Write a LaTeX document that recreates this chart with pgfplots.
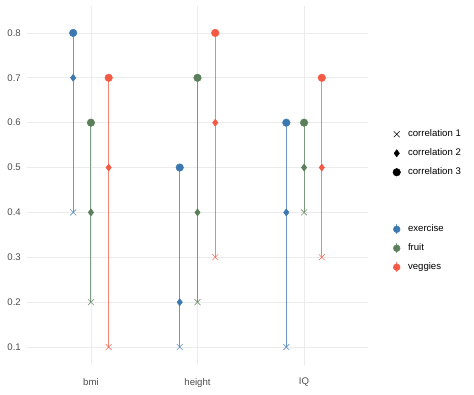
\documentclass[border=0pt]{standalone}
\usepackage{pgfplots}
\pgfplotsset{compat=1.18}
\usepackage{pgfplotstable}
\usepackage{fontspec}
\setmainfont{Liberation Sans}
\definecolor{exc}{HTML}{3B78B0}
\definecolor{fru}{HTML}{5A7F5A}
\definecolor{veg}{HTML}{F45A43}
\definecolor{gridc}{HTML}{EBEBEB}
\definecolor{tickc}{HTML}{4D4D4D}

\pgfplotstableread{
x c1 c2 c3
0.8333 0.4 0.7 0.8
1.8333 0.1 0.2 0.5
2.8333 0.1 0.4 0.6
}\exercise
\pgfplotstableread{
x c1 c2 c3
1 0.2 0.4 0.6
2 0.2 0.4 0.7
3 0.4 0.5 0.6
}\fruit
\pgfplotstableread{
x c1 c2 c3
1.1667 0.1 0.5 0.7
2.1667 0.3 0.6 0.8
3.1667 0.3 0.5 0.7
}\veggies

\pgfplotsset{
  seg/.style={forget plot, draw=none, mark=none,
    error bars/.cd, y dir=minus, y explicit, error mark=none,
    error bar style={line width=1.1pt, color=#1, opacity=0.75}},
  pr/.style={legend image code/.code={
    \draw[#1, line width=0.9pt, opacity=0.75] (0.3cm,-0.17cm) -- (0.3cm,0.17cm);
    \fill[#1] (0.3cm,0cm) circle (3.4pt);}},
}

\begin{document}
\fontsize{9.6}{11.5}\selectfont
\begin{tikzpicture}
\path[use as bounding box] (0,0) rectangle (474pt,395pt);
\begin{axis}[
  at={(27pt,30pt)}, anchor=south west,
  scale only axis, width=341pt, height=359pt,
  xmin=0.4, xmax=3.6, ymin=0.06, ymax=0.86,
  xtick={1,2,3}, xticklabels={bmi,height,IQ},
  ytick={0.1,0.2,0.3,0.4,0.5,0.6,0.7,0.8},
  yticklabel style={/pgf/number format/.cd, fixed, fixed zerofill, precision=1, /tikz/.cd},
  /pgf/number format/assume math mode=true,
  axis line style={draw=none}, major tick length=0pt,
  grid=major, major grid style={gridc, line width=0.7pt},
  tick label style={font=\fontsize{9.6}{11.5}\selectfont, color=tickc},
  yticklabel style={inner sep=0pt, anchor=east, xshift=-6pt},
  xticklabel style={inner sep=0pt, anchor=north, yshift=-13pt},
  legend style={at={(1,0.66)}, anchor=north west, xshift=20pt, draw=none, fill=none,
    font=\fontsize{9.6}{11.5}\selectfont, row sep=7pt, inner sep=0pt,
    nodes={inner sep=1.5pt, text height=7pt, text depth=2pt},
    /tikz/every odd column/.append style={column sep=6pt}},
  legend cell align=left,
]
% segments
\addplot[seg=exc] table[x=x, y=c3, y error minus expr=\thisrow{c3}-\thisrow{c1}] {\exercise};
\addplot[seg=fru] table[x=x, y=c3, y error minus expr=\thisrow{c3}-\thisrow{c1}] {\fruit};
\addplot[seg=veg] table[x=x, y=c3, y error minus expr=\thisrow{c3}-\thisrow{c1}] {\veggies};
% correlation 1 (crosses)
\addplot[forget plot, only marks, mark=x, mark size=4.2pt, exc, opacity=0.8, mark options={line width=0.6pt}] table[x=x, y=c1] {\exercise};
\addplot[forget plot, only marks, mark=x, mark size=4.2pt, fru, opacity=0.8, mark options={line width=0.6pt}] table[x=x, y=c1] {\fruit};
\addplot[forget plot, only marks, mark=x, mark size=4.2pt, veg, opacity=0.8, mark options={line width=0.6pt}] table[x=x, y=c1] {\veggies};
% correlation 2 (diamonds)
\addplot[forget plot, only marks, mark=diamond*, mark size=3.6pt, exc] table[x=x, y=c2] {\exercise};
\addplot[forget plot, only marks, mark=diamond*, mark size=3.6pt, fru] table[x=x, y=c2] {\fruit};
\addplot[forget plot, only marks, mark=diamond*, mark size=3.6pt, veg] table[x=x, y=c2] {\veggies};
% correlation 3 (circles)
\addplot[forget plot, only marks, mark=*, mark size=3.8pt, exc] table[x=x, y=c3] {\exercise};
\addplot[forget plot, only marks, mark=*, mark size=3.8pt, fru] table[x=x, y=c3] {\fruit};
\addplot[forget plot, only marks, mark=*, mark size=3.8pt, veg] table[x=x, y=c3] {\veggies};
% legend
\addlegendimage{only marks, mark=x, mark size=4.2pt, black, mark options={line width=0.6pt}}
\addlegendentry{correlation 1}
\addlegendimage{only marks, mark=diamond*, mark size=3.6pt, black}
\addlegendentry{correlation 2}
\addlegendimage{only marks, mark=*, mark size=3.8pt, black}
\addlegendentry{correlation 3}
\addlegendimage{empty legend}
\addlegendentry{}
\addlegendimage{empty legend}
\addlegendentry{}
\addlegendimage{pr=exc}
\addlegendentry{exercise}
\addlegendimage{pr=fru}
\addlegendentry{fruit}
\addlegendimage{pr=veg}
\addlegendentry{veggies}
\end{axis}
\end{tikzpicture}
\end{document}
